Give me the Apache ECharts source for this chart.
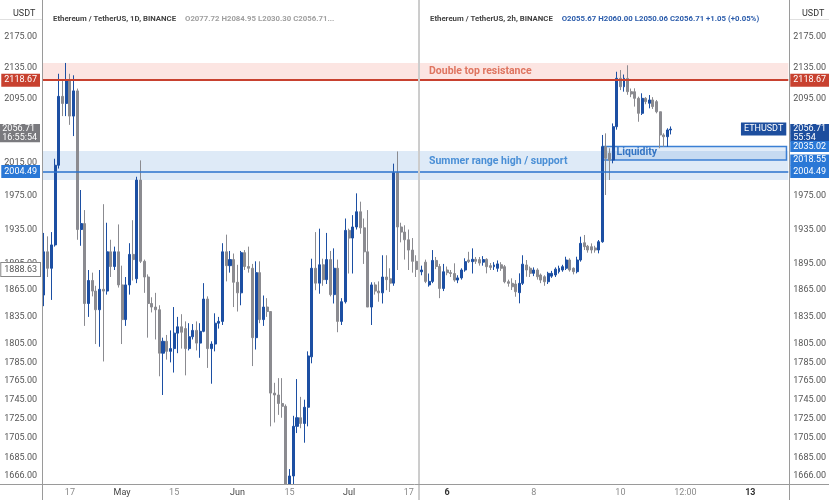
<!DOCTYPE html>
<html lang="en">
<head>
<meta charset="UTF-8" />
<title>ETHUSDT 1D / 2h</title>
<style>
  html, body { margin: 0; padding: 0; background: #fff; }
  #chart { width: 829px; height: 500px; }
</style>
</head>
<body>
<div id="chart"></div>
<script src="https://cdn.jsdelivr.net/npm/echarts@6/dist/echarts.min.js"></script>
<script>
// daily candles from 2023-04-10, [open, close, low, high]
const dailyCandles = [
  [1859.5, 1909, 1847, 1931], [1909, 1890, 1880, 1927], [1890, 1917, 1854, 1932], [1917, 2012, 1915, 2020],
  [2012, 2098, 2008, 2127], [2098, 2089, 2073, 2119], [2089, 2119, 2073, 2141], [2119, 2073, 2062, 2127],
  [2073, 2105, 2048, 2125], [2105, 1935, 1923, 2108], [1935, 1942, 1916, 1982], [1942, 1850, 1825, 1958],
  [1850, 1876, 1835, 1888], [1876, 1864, 1858, 1885], [1864, 1843, 1805, 1870], [1843, 1866, 1802, 1888],
  [1866, 1864, 1786, 1965], [1864, 1909, 1860, 1943], [1909, 1892, 1880, 1923], [1892, 1909, 1888, 1915],
  [1909, 1871, 1868, 1941], [1871, 1832, 1805, 1893], [1832, 1871, 1825, 1880], [1871, 1906, 1860, 1919],
  [1906, 1900, 1876, 1946], [1878, 1994, 1873, 1998], [1994, 1898, 1896, 2018], [1898, 1880, 1862, 1900],
  [1880, 1850, 1812, 1883], [1850, 1846, 1840, 1857], [1846, 1843, 1810, 1862], [1843, 1795, 1770, 1848],
  [1795, 1808, 1750, 1812], [1808, 1797, 1788, 1815], [1797, 1800, 1785, 1820], [1800, 1817, 1774, 1846],
  [1817, 1824, 1795, 1835], [1824, 1818, 1800, 1838], [1822, 1800, 1771, 1830], [1800, 1813, 1798, 1828],
  [1813, 1820, 1810, 1827], [1820, 1806, 1798, 1830], [1806, 1819, 1790, 1828], [1819, 1855, 1818, 1873],
  [1855, 1800, 1779, 1858], [1800, 1805, 1762, 1808], [1805, 1828, 1797, 1839], [1828, 1830, 1822, 1835],
  [1830, 1909, 1826, 1919], [1909, 1893, 1875, 1929], [1893, 1900, 1885, 1910], [1900, 1874, 1846, 1907],
  [1874, 1862, 1841, 1894], [1862, 1908, 1848, 1910], [1908, 1892, 1888, 1911], [1892, 1890, 1885, 1915],
  [1890, 1812, 1781, 1895], [1812, 1885, 1799, 1898], [1885, 1832, 1828, 1898], [1832, 1846, 1825, 1859],
  [1846, 1841, 1835, 1856], [1841, 1752, 1717, 1841], [1752, 1750, 1721, 1763], [1750, 1741, 1729, 1768],
  [1741, 1738, 1726, 1768], [1738, 1650, 1640, 1740], [1652, 1666, 1626, 1673], [1666, 1717, 1654, 1728],
  [1717, 1726, 1710, 1767], [1726, 1720, 1715, 1748], [1720, 1737, 1700, 1745], [1737, 1792, 1717, 1797],
  [1791, 1890, 1784, 1901], [1890, 1873, 1865, 1932], [1873, 1894, 1861, 1936], [1894, 1877, 1870, 1901],
  [1877, 1900, 1872, 1931], [1900, 1860, 1858, 1910], [1860, 1890, 1850, 1913], [1890, 1830, 1818, 1900],
  [1830, 1852, 1826, 1856], [1852, 1934, 1850, 1948], [1934, 1925, 1884, 1936], [1925, 1938, 1884, 1952],
  [1938, 1956, 1935, 1978], [1956, 1937, 1930, 1968], [1937, 1909, 1895, 1948], [1909, 1846, 1846, 1958],
  [1846, 1871, 1826, 1874], [1871, 1864, 1860, 1874], [1864, 1862, 1852, 1875], [1862, 1880, 1850, 1905],
  [1880, 1877, 1865, 1905], [1878, 1873, 1863, 1890], [1873, 2003, 1870, 2014], [2003, 1938, 1888, 2029],
  [1938, 1932, 1920, 1943], [1932, 1923, 1900, 1940], [1923, 1911, 1888, 1935], [1911, 1898, 1885, 1925],
  [1898, 1888.63, 1880, 1905]
];

// 2h candles from 2023-11-05 10:00, [open, close, low, high]
const twoHourCandles = [
  [1886, 1888, 1882, 1893], [1897, 1875, 1873, 1900], [1871, 1875, 1869, 1884], [1875, 1899, 1873, 1911],
  [1899, 1892, 1889, 1903], [1892, 1867, 1856, 1895], [1867, 1886, 1864, 1895], [1888, 1885, 1882, 1892],
  [1885, 1884, 1880, 1888], [1884, 1876.5, 1874.6, 1895.7], [1876.5, 1879, 1873, 1882], [1879, 1888, 1877, 1890],
  [1888, 1897.6, 1886, 1901.5], [1899.5, 1897.6, 1896, 1909], [1897.6, 1900.3, 1884, 1913], [1900.3, 1898, 1895, 1903],
  [1900, 1896, 1893, 1903], [1897, 1900, 1893, 1904], [1900.3, 1891.8, 1884.2, 1901.5], [1893, 1891, 1888, 1896],
  [1891.8, 1893.8, 1888, 1897], [1890, 1895, 1886, 1899], [1894, 1890, 1887, 1897], [1891.8, 1874.6, 1872.8, 1893.8],
  [1874.6, 1872.8, 1869, 1877], [1872.8, 1868.9, 1865.2, 1878.5], [1872, 1863.3, 1857.6, 1876.5], [1862.2, 1872.8, 1850.2, 1884.2],
  [1872.8, 1894.7, 1870.9, 1905], [1893.8, 1888, 1880.3, 1899.5], [1890, 1884.2, 1880, 1892], [1884.2, 1888, 1881, 1891],
  [1888, 1880.3, 1877, 1890], [1882.3, 1876.5, 1873, 1884], [1880.3, 1874.6, 1870, 1882], [1874.6, 1884.2, 1872, 1886],
  [1881, 1884.2, 1879, 1887], [1882.3, 1889, 1880, 1891], [1886.1, 1890, 1884, 1893], [1888, 1891.8, 1886, 1894],
  [1890, 1899.5, 1888, 1903.3], [1899.5, 1888, 1886.1, 1901.5], [1890, 1886.1, 1883, 1891], [1886.1, 1899.5, 1884.2, 1903.3],
  [1899.5, 1918.8, 1897.6, 1926.6], [1919.5, 1914.9, 1911.1, 1928.6], [1915.5, 1911.1, 1908, 1917], [1914.9, 1911.1, 1907.2, 1918.8],
  [1913.5, 1911.1, 1908, 1916], [1911.1, 1920.7, 1907.2, 1922.7], [1920.7, 2034.8, 1919.5, 2049.4], [2034.8, 2020.6, 1976, 2051.4],
  [2026.7, 2018.4, 1994.1, 2032.9], [2018.4, 2059.7, 2014.4, 2063.8], [2059.7, 2121.1, 2056, 2129.6], [2121.1, 2110.3, 2106, 2131.8],
  [2110.3, 2121.1, 2104, 2126], [2121, 2104, 2100, 2138], [2104, 2101, 2097, 2108], [2103.9, 2095.5, 2085, 2108.3],
  [2095.5, 2076.5, 2065.9, 2097.6], [2076.5, 2095.5, 2074.4, 2101.9], [2095.5, 2091.3, 2088, 2097], [2089.2, 2093.4, 2082.8, 2099.7],
  [2093.4, 2085, 2082, 2097], [2091.3, 2078.5, 2076.5, 2093.4], [2078.5, 2049.4, 2032.9, 2078.5], [2049.4, 2047.2, 2034.8, 2051.5],
  [2047.2, 2055.6, 2034.8, 2057.7], [2055.67, 2056.71, 2050.06, 2060.0]
];
const twoHourSlots = 102;

const priceTicks = [1666, 1685, 1705, 1725, 1745, 1765, 1785, 1805, 1835, 1865, 1895, 1935, 1975, 2015, 2055, 2095, 2135, 2175];
const priceMin = 1657.9;
const priceMax = 2197.6;

const leftTickLabels = { '2023-04-17': '17', '2023-05-01': 'May', '2023-05-15': '15', '2023-06-01': 'Jun', '2023-06-15': '15', '2023-07-01': 'Jul', '2023-07-17': '17' };
const rightTickLabels = { '2023-11-06 00:00': '6', '2023-11-08 00:00': '8', '2023-11-10 00:00': '10', '2023-11-11 12:00': '12:00', '2023-11-13 00:00': '13' };
const monthLabels = ['May', 'Jun', 'Jul'];
const boldLabels = ['6', '13'];

const dailyHeader = [2077.72, 2084.95, 2030.30, 2056.71];
const twoHourHeader = [2055.67, 2060.00, 2050.06, 2056.71];
const lastChange = '+1.05 (+0.05%)';
const dailyCountdown = '16:55:54';
const twoHourCountdown = '55:54';

// levels
const resistance = 2118.67;
const resistanceTop = 2141;
const support = 2004.49;
const supportBand = [2029.5, 1994];
const liquidity = [2035.02, 2018.55];
const liquidityStart = 50;
const lastPrice = 2056.71;
const leftLast = 1888.63;

const upColor = '#1c4fa3';
const downColor = '#8b8b90';
const lg = Math.log;
// countdown tag sits just under the price tag
const tagStep = 0.0052;

const leftDates = [];
for (let i = 0; i < dailyCandles.length; i++) {
  leftDates.push(new Date(Date.UTC(2023, 3, 10 + i)).toISOString().slice(0, 10));
}
const rightDates = [];
for (let i = 0; i < twoHourSlots; i++) {
  rightDates.push(new Date(Date.UTC(2023, 10, 5, 10 + 2 * i)).toISOString().slice(0, 16).replace('T', ' '));
}

function ohlcText(v) {
  return 'O' + v[0].toFixed(2) + ' H' + v[1].toFixed(2) + ' L' + v[2].toFixed(2) + ' C' + v[3].toFixed(2);
}

function yAxisFor(grid, pos) {
  return {
    type: 'value',
    gridIndex: grid,
    position: pos,
    min: lg(priceMin),
    max: lg(priceMax),
    axisLine: { show: false },
    axisTick: { show: false },
    splitLine: { show: false },
    axisLabel: {
      customValues: priceTicks.map(lg),
      formatter: (v) => Math.exp(v).toFixed(2),
      color: '#555',
      fontSize: 9,
      margin: 5
    }
  };
}

function xAxisFor(grid, dates, labels) {
  return {
    type: 'category',
    gridIndex: grid,
    data: dates,
    boundaryGap: true,
    z: 60,
    axisLine: { show: false },
    axisTick: { show: false },
    splitLine: { show: false },
    axisLabel: {
      interval: (i, v) => labels[v] !== undefined,
      formatter: (v) => {
        const t = labels[v];
        if (boldLabels.indexOf(t) >= 0) return '{b|' + t + '}';
        if (monthLabels.indexOf(t) >= 0) return '{m|' + t + '}';
        return '{w|' + t + '}';
      },
      margin: 4,
      rich: {
        b: { fontSize: 9, color: '#333', fontWeight: 'bold' },
        m: { fontSize: 9, color: '#444' },
        w: { fontSize: 9, color: '#8a8a8a' }
      }
    }
  };
}

function tag(text, bg, pos, extra) {
  return Object.assign({
    show: true,
    position: pos,
    formatter: text,
    backgroundColor: bg,
    color: '#fff',
    fontSize: 9,
    lineHeight: 10,
    padding: [2, 3, 1, 3],
    distance: 2
  }, extra || {});
}

const hidden = { color: 'rgba(0,0,0,0)', width: 1 };
const bandPink = 'rgba(242,153,140,0.25)';
const bandBlue = 'rgba(60,130,210,0.17)';
const slimTag = { padding: [1, 3, 0, 3] };

const chart = echarts.init(document.getElementById('chart'));
chart.setOption({
  animation: false,
  textStyle: { fontFamily: 'Roboto' },
  title: [
    {
      left: 48, top: 5,
      text: '{n|Ethereum / TetherUS, 1D, BINANCE}  {v|' + ohlcText(dailyHeader) + '...}',
      textStyle: { rich: { n: { fontSize: 7.8, color: '#444' }, v: { fontSize: 7.8, color: '#a0a0a0' } } }
    },
    {
      left: 425, top: 5,
      text: '{n|Ethereum / TetherUS, 2h, BINANCE}  {v|' + ohlcText(twoHourHeader) + ' ' + lastChange + '}',
      textStyle: { rich: { n: { fontSize: 7.8, color: '#444' }, v: { fontSize: 7.8, color: '#2b5cab' } } }
    },
    { left: 8, top: 4, text: 'USDT', textStyle: { fontSize: 9, color: '#333', fontWeight: 'normal' } },
    { left: 797, top: 4, text: 'USDT', textStyle: { fontSize: 9, color: '#333', fontWeight: 'normal' } }
  ],
  grid: [
    { left: 42, top: 20, width: 376, height: 464 },
    { left: 420, top: 20, width: 369, height: 464 }
  ],
  xAxis: [xAxisFor(0, leftDates, leftTickLabels), xAxisFor(1, rightDates, rightTickLabels)],
  yAxis: [yAxisFor(0, 'left'), yAxisFor(1, 'right')],
  series: [
    {
      type: 'candlestick',
      xAxisIndex: 0,
      yAxisIndex: 0,
      barWidth: '68%',
      data: dailyCandles.map((c) => c.map(lg)),
      itemStyle: { color: upColor, color0: downColor, borderColor: upColor, borderColor0: downColor, borderWidth: 1 },
      markArea: {
        silent: true,
        data: [
          [{ yAxis: lg(resistanceTop), itemStyle: { color: bandPink } }, { yAxis: lg(resistance) }],
          [{ yAxis: lg(supportBand[0]), itemStyle: { color: bandBlue } }, { yAxis: lg(supportBand[1]) }]
        ]
      },
      markLine: {
        silent: true,
        symbol: 'none',
        precision: 10,
        data: [
          { yAxis: lg(resistance), lineStyle: { color: '#c8412f', width: 2, type: 'solid' }, label: tag(resistance.toFixed(2), '#c8412f', 'start') },
          { yAxis: lg(support), lineStyle: { color: '#2a72cc', width: 1.5, type: 'solid' }, label: tag(support.toFixed(2), '#2a78d6', 'start') },
          { yAxis: lg(lastPrice), lineStyle: hidden, label: tag(lastPrice.toFixed(2), '#7a7a7e', 'start', { lineHeight: 9, padding: [1, 5, 0, 5] }) },
          { yAxis: lg(lastPrice) - tagStep, lineStyle: hidden, label: tag(dailyCountdown, '#7a7a7e', 'start', { lineHeight: 8, padding: [0, 3, 1, 3] }) },
          { yAxis: lg(leftLast), lineStyle: hidden, label: tag(leftLast.toFixed(2), '#fff', 'start', { color: '#555', borderColor: '#888', borderWidth: 1 }) }
        ]
      }
    },
    {
      type: 'candlestick',
      xAxisIndex: 1,
      yAxisIndex: 1,
      barWidth: '68%',
      data: twoHourCandles.map((c) => c.map(lg)),
      itemStyle: { color: upColor, color0: downColor, borderColor: upColor, borderColor0: downColor, borderWidth: 1 },
      markArea: {
        silent: true,
        data: [
          [{
            yAxis: lg(resistanceTop), itemStyle: { color: bandPink },
            label: { show: true, position: [9, 3], formatter: 'Double top resistance', color: '#df7560', fontSize: 10.5, fontWeight: 'bold' }
          }, { yAxis: lg(resistance) }],
          [{
            yAxis: lg(supportBand[0]), itemStyle: { color: bandBlue },
            label: { show: true, position: [9, 5], formatter: 'Summer range high / support', color: '#4a8fd6', fontSize: 10.5, fontWeight: 'bold' }
          }, { yAxis: lg(supportBand[1]) }],
          [{
            xAxis: liquidityStart, yAxis: lg(liquidity[0]),
            itemStyle: { color: 'rgba(60,130,210,0.15)', borderColor: '#3b7fd4', borderWidth: 1.5 },
            label: { show: true, position: [15, 1], formatter: 'Liquidity', color: '#3575c4', fontSize: 10.5, fontWeight: 'bold' }
          }, { xAxis: twoHourSlots - 1, yAxis: lg(liquidity[1]) }]
        ]
      },
      markLine: {
        silent: true,
        symbol: 'none',
        precision: 10,
        data: [
          { yAxis: lg(resistance), lineStyle: { color: '#c8412f', width: 2, type: 'solid' }, label: tag(resistance.toFixed(2), '#c8412f', 'end') },
          { yAxis: lg(support), lineStyle: { color: '#2a72cc', width: 1.5, type: 'solid' }, label: tag(support.toFixed(2), '#2a78d6', 'end') },
          { yAxis: lg(lastPrice), lineStyle: hidden, label: tag(lastPrice.toFixed(2), '#1d4e9e', 'end', { lineHeight: 9, padding: [1, 3, 0, 3] }) },
          { yAxis: lg(lastPrice) - tagStep, lineStyle: hidden, label: tag(twoHourCountdown, '#1d4e9e', 'end', { lineHeight: 8, padding: [0, 15, 0, 3] }) },
          { yAxis: lg(lastPrice), lineStyle: hidden, label: tag('ETHUSDT', '#1d4e9e', 'insideEndTop', { verticalAlign: 'middle', distance: [2, 0] }) },
          { yAxis: lg(liquidity[0]), lineStyle: hidden, label: tag(liquidity[0].toFixed(2), '#2a78d6', 'end', slimTag) },
          { yAxis: lg(liquidity[1]), lineStyle: hidden, label: tag(liquidity[1].toFixed(2), '#2a78d6', 'end', slimTag) }
        ]
      }
    }
  ],
  graphic: [
    { type: 'rect', silent: true, z: 50, shape: { x: 42, y: 485, width: 787, height: 15 }, style: { fill: '#fff' } },
    { type: 'line', silent: true, z: 100, shape: { x1: 42.5, y1: 0, x2: 42.5, y2: 500 }, style: { stroke: '#9a9a9a', lineWidth: 1 } },
    { type: 'line', silent: true, z: 100, shape: { x1: 419, y1: 0, x2: 419, y2: 500 }, style: { stroke: '#9a9a9a', lineWidth: 1 } },
    { type: 'line', silent: true, z: 100, shape: { x1: 789.5, y1: 0, x2: 789.5, y2: 500 }, style: { stroke: '#9a9a9a', lineWidth: 1 } },
    { type: 'line', silent: true, z: 100, shape: { x1: 0, y1: 484.5, x2: 829, y2: 484.5 }, style: { stroke: '#9a9a9a', lineWidth: 1 } },
    { type: 'line', silent: true, z: 100, shape: { x1: 0, y1: 19.5, x2: 42, y2: 19.5 }, style: { stroke: '#e0e0e0', lineWidth: 1 } },
    { type: 'line', silent: true, z: 100, shape: { x1: 790, y1: 19.5, x2: 829, y2: 19.5 }, style: { stroke: '#e0e0e0', lineWidth: 1 } }
  ]
});
</script>
</body>
</html>
